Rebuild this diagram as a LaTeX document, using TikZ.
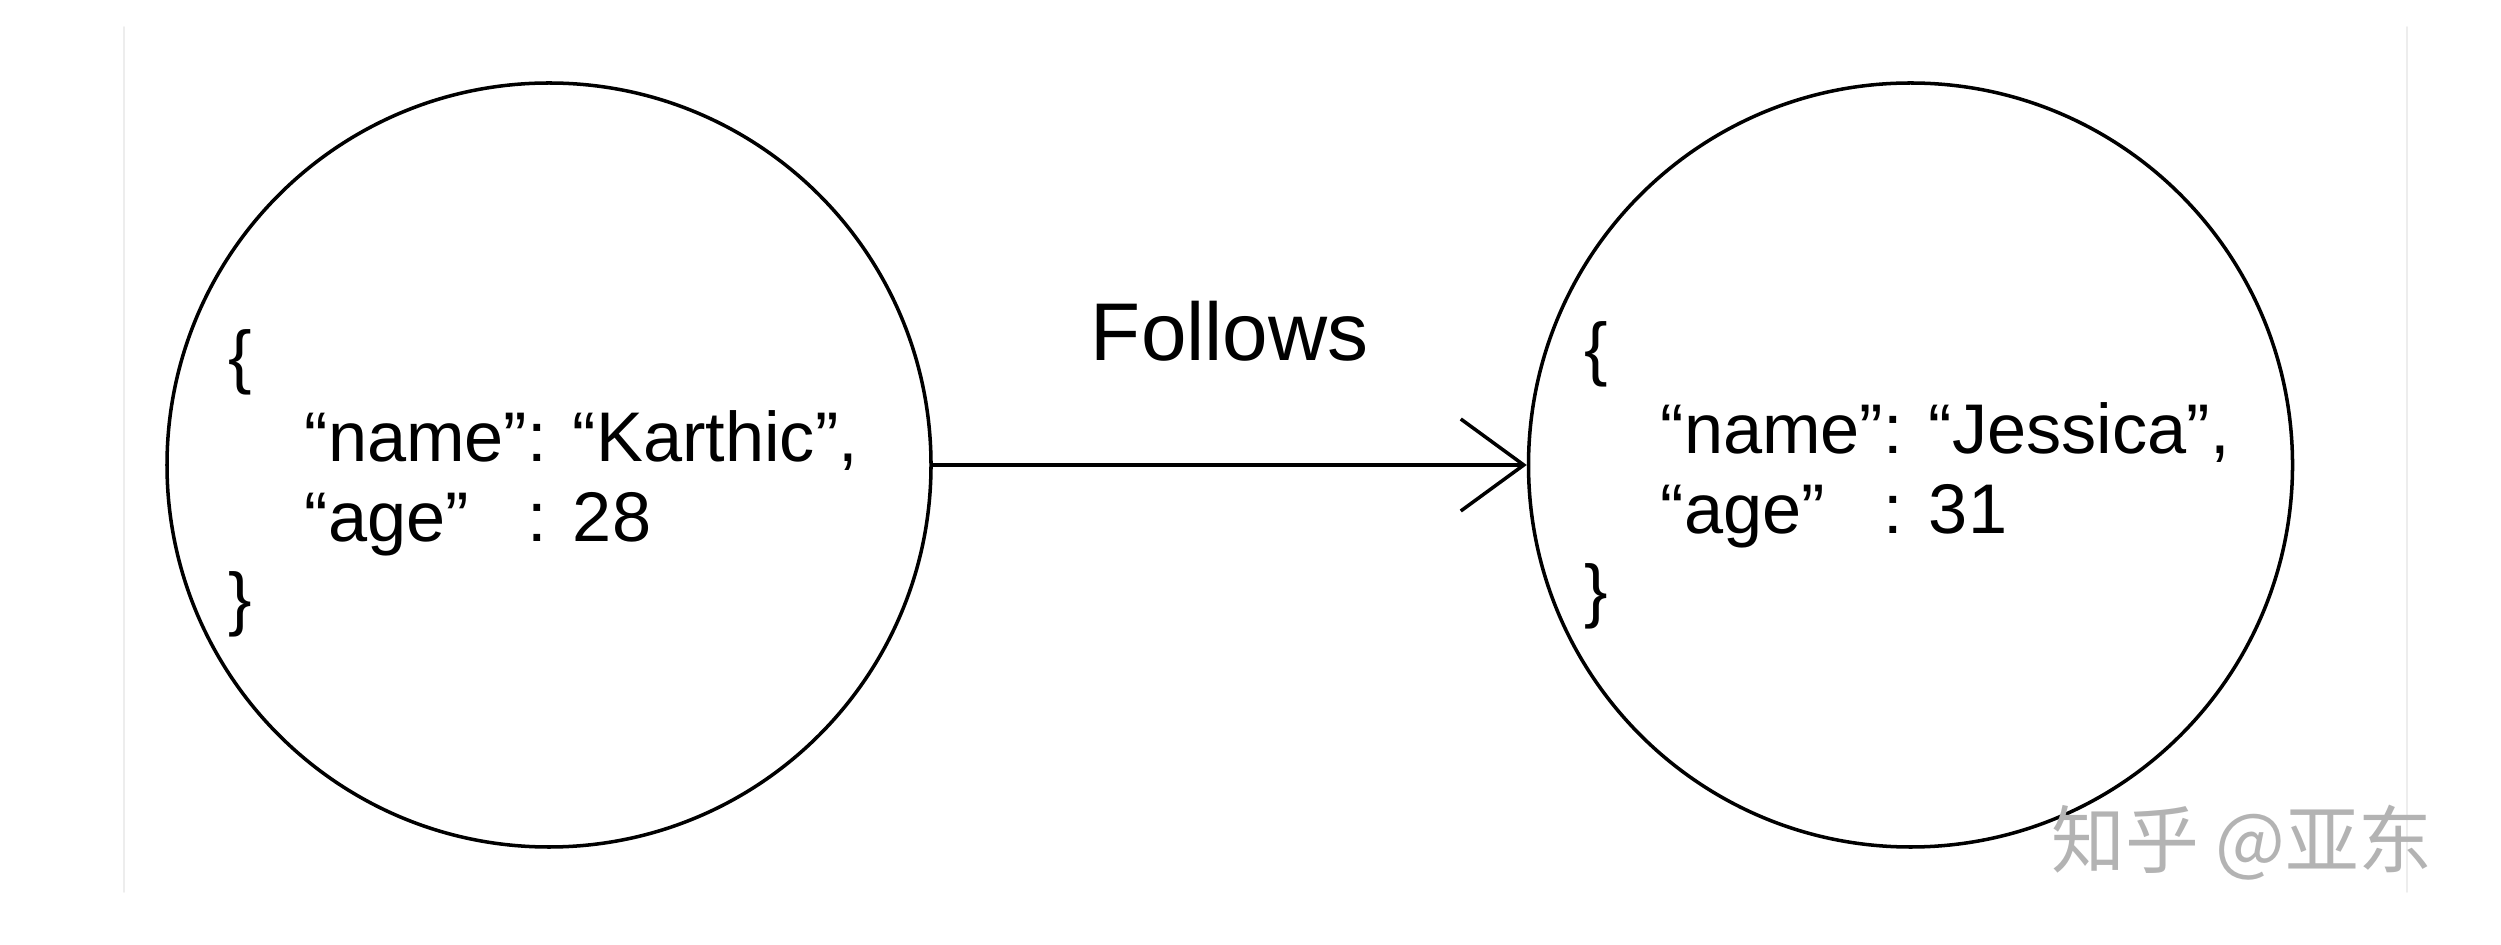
\documentclass[tikz,border=0pt]{standalone}
\usepackage{fontspec}
\setmainfont{Liberation Sans}
\newfontfamily\cjkfont{Noto Sans CJK SC}
\usetikzlibrary{arrows.meta}
\definecolor{markgray}{HTML}{B3B3B3}
\definecolor{framegray}{HTML}{EDEDED}
\begin{document}
\begin{tikzpicture}[line join=round, line cap=round, >={Straight Barb[length=6.3mm,width=9.2mm]}, line width=1pt]
\tikzset{record/.style={draw, circle, minimum size=7.64cm, inner sep=0pt},
  json/.style={align=left, anchor=base west, inner sep=0pt, font=\fontsize{20pt}{22.9pt}\selectfont}}
\useasboundingbox (0,0) rectangle (25.01,9.44);
\draw[framegray, line width=0.5pt] (1.24,0.52)--(1.24,9.17);
\draw[framegray, line width=0.5pt] (24.07,0.52)--(24.07,9.17);
% the two records
\node[record] (karthic) at (5.49,4.79) {};
\node[record] (jessica) at (19.105,4.79) {};
\node[json] (karthicdata) at ([shift={(-3.22,-1.57)}]karthic.center)
  {\{\\\hspace*{0.76cm}“name”: “Karthic”,\\\hspace*{0.76cm}“age”\ \ \ : 28\\\}};
\node[json] (jessicadata) at ([shift={(-3.275,-1.49)}]jessica.center)
  {\{\\\hspace*{0.76cm}“name”: “Jessica”,\\\hspace*{0.76cm}“age”\ \ \ : 31\\\}};
% the relation
\draw[->] (karthic.0.3) -- node[above=1.02cm, inner sep=0pt, font=\fontsize{23.3pt}{28pt}\selectfont] (follows) {Follows} (jessica.180.45);
\node[markgray, inner sep=0pt, font=\cjkfont\fontsize{21pt}{24pt}\selectfont] (watermark) at (22.42,1.01) {知乎 @亚东};
\end{tikzpicture}
\end{document}
